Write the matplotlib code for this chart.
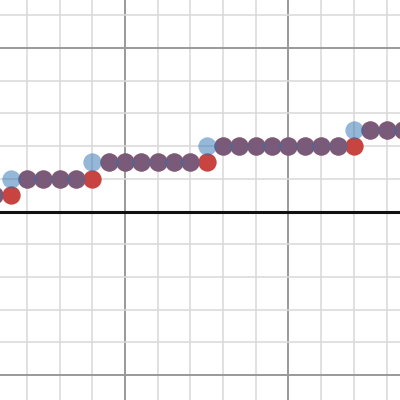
import matplotlib
matplotlib.use("Agg")
import matplotlib.pyplot as plt
import numpy as np

# sample positions (grid units) and the two step series
xs = [6.0, 6.5, 7.0, 7.5, 8.0, 8.5, 9.0, 9.5, 10.0, 10.5, 11.0, 11.5, 12.0,
      12.5, 13.0, 13.5, 14.0, 14.5, 15.0, 15.5, 16.0, 16.5, 17.0, 17.5, 18.0, 18.5]
blue_y = [0.5, 1.0, 1.0, 1.0, 1.0, 1.0, 1.5, 1.5, 1.5, 1.5, 1.5, 1.5, 1.5,
          2.0, 2.0, 2.0, 2.0, 2.0, 2.0, 2.0, 2.0, 2.0, 2.5, 2.5, 2.5, 2.5]
red_y = [0.5, 0.5, 1.0, 1.0, 1.0, 1.0, 1.0, 1.5, 1.5, 1.5, 1.5, 1.5, 1.5,
         1.5, 2.0, 2.0, 2.0, 2.0, 2.0, 2.0, 2.0, 2.0, 2.0, 2.5, 2.5, 2.5]

fig = plt.figure(figsize=(4, 4), dpi=100)
ax = fig.add_axes([0, 0, 1, 1])

ax.set_xticks(np.arange(5, 20, 5))
ax.set_xticks(np.arange(6, 19, 1), minor=True)
ax.set_yticks(np.arange(-5, 10, 5))
ax.set_yticks(np.arange(-5, 7, 1), minor=True)
ax.grid(which="minor", color="#d9d9d9", lw=1.1)
ax.grid(which="major", color="#999999", lw=1.4)
ax.tick_params(which="both", length=0, labelbottom=False, labelleft=False)
for s in ax.spines.values():
    s.set_visible(False)
ax.set_axisbelow(True)

ax.axhline(0, color="#111111", lw=2.2, zorder=1.5)

ax.plot(xs, red_y, "o", color="#c74440", ms=13.2, mew=0, zorder=3)
ax.plot(xs, blue_y, "o", color="#2d70b3", alpha=0.5, ms=13.2, mew=0, zorder=4)

# limits last so the tick calls don't widen the view
ax.set_xlim(6.177, 18.41)
ax.set_ylim(-5.764, 6.468)

fig.savefig("out.png", dpi=100)
